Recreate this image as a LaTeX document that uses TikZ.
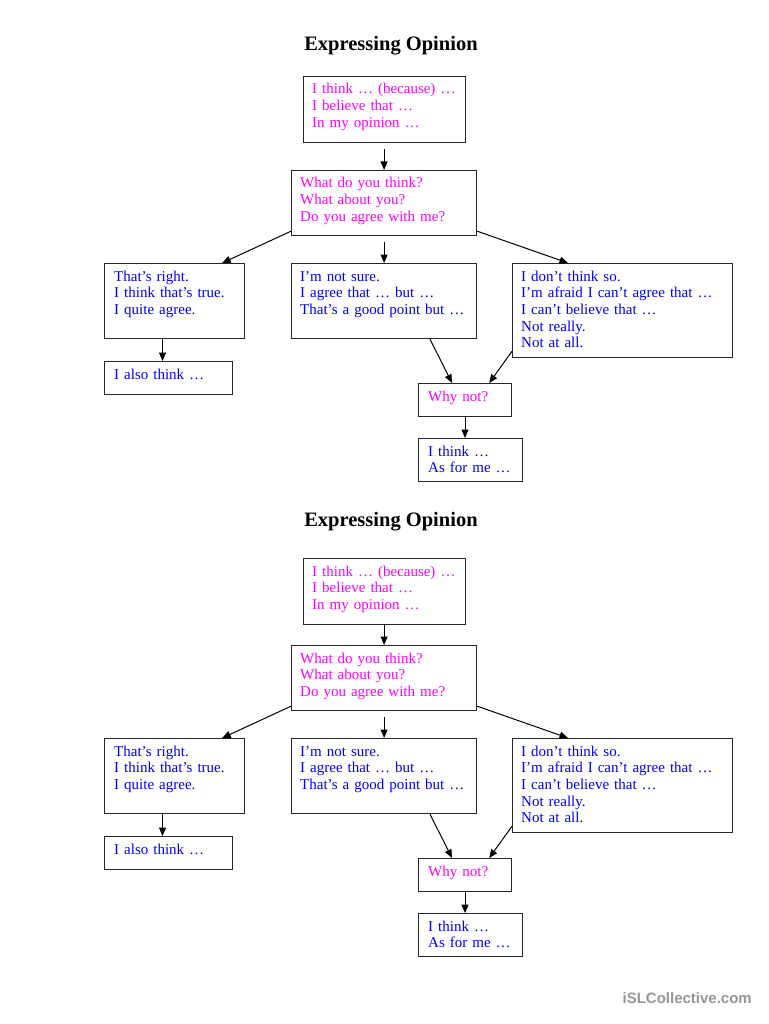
\documentclass[tikz,border=0pt]{standalone}
\usepackage{fontspec}
\setmainfont{Liberation Serif}
\newfontfamily\wmfont{Liberation Sans}
\usetikzlibrary{calc,arrows.meta}
\definecolor{pinktext}{RGB}{255,0,255}
\definecolor{bluetext}{RGB}{0,0,255}
\definecolor{wmgray}{RGB}{150,150,150}
\tikzset{
  box/.style={draw=black!85, line width=1.2pt, rectangle, inner sep=0pt, anchor=north west, fill=white},
  txt/.style={anchor=base west, inner sep=0pt, align=left, font={\fontsize{15}{16.7}\selectfont}},
  pinkt/.style={txt, text=pinktext},
  bluet/.style={txt, text=bluetext},
  arr/.style={line width=1pt, -{Triangle[length=8.5pt,width=7pt]}},
  ttl/.style={anchor=base, inner sep=0pt, font={\fontsize{20.5}{24}\selectfont\bfseries}},
}
\newcommand\opiniondiagram[4]{%
 % #1 prefix, #2 vertical offset, #3 extra shift of first box, #4 gap below first box
 \begin{scope}[yshift=-#2pt]
  \node[ttl] (#1title) at (391,51) {Expressing Opinion};
  \begin{scope}[yshift=-#3pt]
   \node[box, minimum width=162, minimum height=66] (#1b1) at (303,76) {};
   \node[pinkt, text width=150] (#1t1) at ($(#1b1.north west)+(9,18)$) {I think … (because) …\\I believe that …\\In my opinion …};
  \end{scope}
  \node[box, minimum width=185, minimum height=65] (#1b2) at (291,170) {};
  \node[pinkt, text width=175] (#1t2) at ($(#1b2.north west)+(9,18)$) {What do you think?\\What about you?\\Do you agree with me?};
  \node[box, minimum width=140, minimum height=75] (#1b3) at (104,263) {};
  \node[bluet, text width=128] (#1t3) at ($(#1b3.north west)+(10,18)$) {That’s right.\\I think that’s true.\\I quite agree.};
  \node[box, minimum width=185, minimum height=75] (#1b4) at (291,263) {};
  \node[bluet, text width=175] (#1t4) at ($(#1b4.north west)+(9,18)$) {I’m not sure.\\I agree that … but …\\That’s a good point but …};
  \node[box, minimum width=220, minimum height=94] (#1b5) at (512,263) {};
  \node[bluet, text width=210] (#1t5) at ($(#1b5.north west)+(9,18)$) {I don’t think so.\\I’m afraid I can’t agree that …\\I can’t believe that …\\Not really.\\Not at all.};
  \node[box, minimum width=128, minimum height=33] (#1b6) at (104,361) {};
  \node[bluet, text width=118] (#1t6) at ($(#1b6.north west)+(10,18.5)$) {I also think …};
  \node[box, minimum width=93, minimum height=33] (#1b7) at (418,383) {};
  \node[pinkt, text width=84] (#1t7) at ($(#1b7.north west)+(10,18)$) {Why not?};
  \node[box, minimum width=104, minimum height=43] (#1b8) at (418,438) {};
  \node[bluet, text width=94] (#1t8) at ($(#1b8.north west)+(10,18)$) {I think …\\As for me …};
  \coordinate (#1s1) at ($(#1b1.south)+(0,#4)$);
  \draw[arr] (#1s1 -| #1b2.north) -- (#1b2.north);
  \draw[arr] ($(#1b2.south west)+(0,-5)$) -- ($(#1b3.north east)+(-23,0)$);
  \draw[arr] ($(#1b2.south)+(0,6)$) -- (#1b4.north);
  \draw[arr] ($(#1b2.south east)+(0,-5)$) -- ($(#1b5.north west)+(56,0)$);
  \draw[arr] ($(#1b3.south west)+(58.5,0)$) -- ($(#1b6.north west)+(58.5,0)$);
  \draw[arr] ($(#1b4.south west)+(139,0)$) -- ($(#1b7.north west)+(34,0)$);
  \draw[arr] ($(#1b5.south west)+(0,-7)$) -- ($(#1b7.north east)+(-23,0)$);
  \draw[arr] ($(#1b7.south west)+(47,0)$) -- ($(#1b8.north west)+(47,0)$);
 \end{scope}
}
\begin{document}
\begin{tikzpicture}[x=1pt,y=-1pt]
\useasboundingbox[fill=white] (0,0) rectangle (768,1024);
\opiniondiagram{a}{0}{0}{6}
\opiniondiagram{b}{475}{7}{0}
\node[anchor=base east, inner sep=0pt, text=wmgray, font={\wmfont\fontsize{15}{18}\selectfont\bfseries}] (wm) at (752,1003.4) {iSLCollective.com};
\end{tikzpicture}
\end{document}
